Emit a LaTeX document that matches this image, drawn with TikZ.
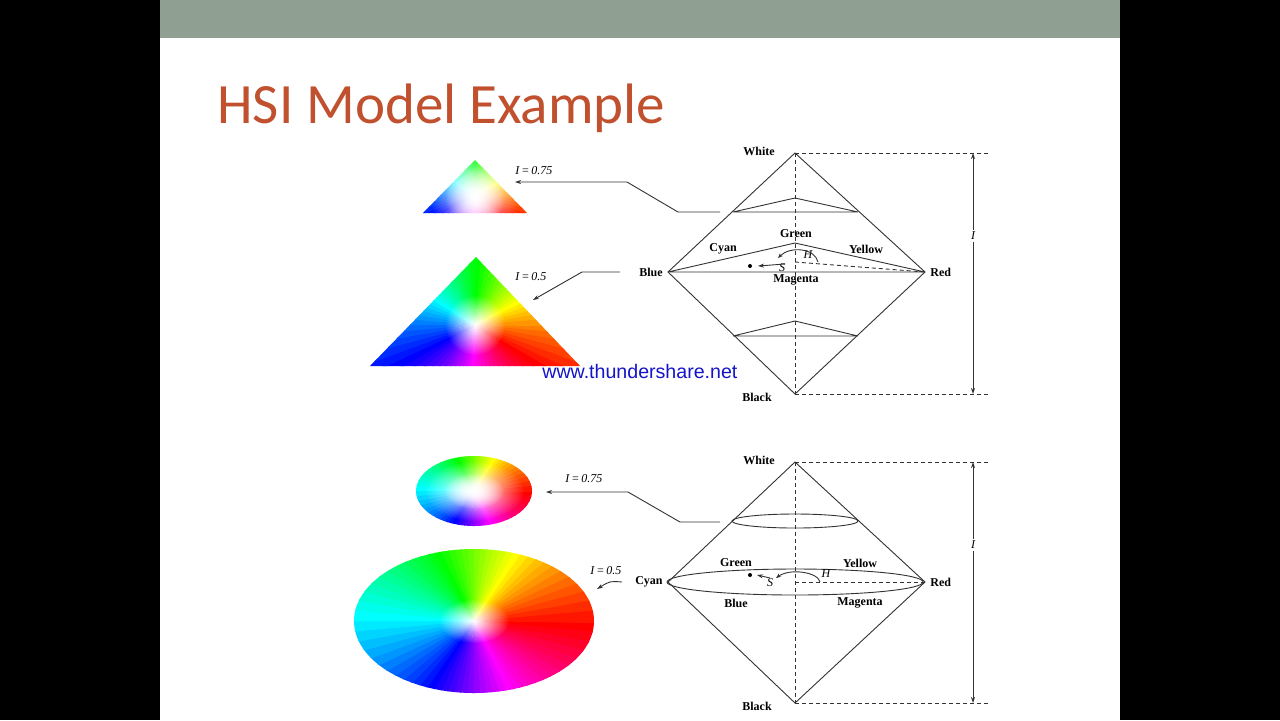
\documentclass[tikz,border=0pt]{standalone}
\usepackage{fontspec}
\setmainfont{Liberation Serif}
\newfontfamily\titlefont{Carlito}
\newfontfamily\webfont{Liberation Sans}
\usetikzlibrary{fadings,arrows.meta}
\tikzfading[name=whitefade, inner color=transparent!0, outer color=transparent!100]
\begin{document}
\begin{tikzpicture}[x=0.5pt,y=-0.5pt,
  lbl/.style={font=\fontsize{6}{7}\selectfont\bfseries, inner sep=1pt},
  ilbl/.style={font=\fontsize{6}{7}\selectfont\itshape, inner sep=1pt},
  ln/.style={draw=black!80, line width=0.45pt},
  dsh/.style={draw=black!80, line width=0.45pt, dash pattern=on 2pt off 1.5pt},
  arr/.style={ln, -{Stealth[length=3pt,width=2pt]}},
  darr/.style={ln, {Stealth[length=3pt,width=2pt]}-{Stealth[length=3pt,width=2pt]}}]
\useasboundingbox (0,0) rectangle (1280,720);
\fill[black] (0,0) rectangle (1280,720);
\fill[white] (160,0) rectangle (1120,720);
\fill[fill={rgb,255:red,143;green,160;blue,146}] (160,0) rectangle (1120,38);
\node[anchor=west, text={rgb,255:red,192;green,80;blue,46}, font=\titlefont\fontsize{28.5}{32}\selectfont, inner sep=0] (title) at (217,108) {HSI Model Example};

% ---------- colour wheels ----------
\newcommand\huewheel[5]{%
  \begin{scope}
    \clip #5;
    \foreach \a in {0,5,...,355}{%
      \pgfmathsetmacro\hh{mod(720-\a-#4,360)}%
      \definecolor{tmpc}{Hsb}{\hh,1,1}%
      \fill[tmpc] (#1,#2) -- +(\a:#3) -- +(\a+6:#3) -- cycle;
    }
  \end{scope}}
% small triangle
\huewheel{475}{195}{120}{-30}{(475,160) -- (423,213) -- (527,213) -- cycle}
\fill[white, path fading=whitefade] (475,196) circle (45);
\fill[white, path fading=whitefade] (475,196) circle (30);
% large triangle
\huewheel{475}{325}{220}{-30}{(476,257) -- (370,366) -- (580,366) -- cycle}
\fill[white, path fading=whitefade] (475,325) circle (30);
% small ellipse
\huewheel{474}{491}{120}{0}{(474,491) ellipse [x radius=58, y radius=35]}
\fill[white, path fading=whitefade] (474,491) ellipse [x radius=50, y radius=30];
\fill[white, path fading=whitefade] (474,491) ellipse [x radius=30, y radius=18];
% large ellipse
\huewheel{474}{621}{200}{0}{(474,621) ellipse [x radius=120, y radius=72]}
\fill[white, path fading=whitefade] (474,621) ellipse [x radius=35, y radius=22];

% ---------- top diagram ----------
\coordinate (W1) at (795,153);
\coordinate (K1) at (795,394);
\coordinate (B1) at (668,272);
\coordinate (R1) at (925,272);
\coordinate (G1) at (795,243);
\coordinate (C1) at (795,262);
\draw[ln] (W1) -- (B1) -- (K1) -- (R1) -- cycle;
\draw[ln] (B1) -- (R1) (B1) -- (G1) -- (R1);
\draw[ln] (733,212) -- (858,212) (733,212) -- (795,198) -- (858,212);
\draw[ln] (733,336) -- (858,336) (733,336) -- (795,321) -- (858,336);
\draw[dsh] (W1) -- (K1);
\draw[dsh] (C1) -- (R1);
\draw[dsh] (W1) -- (990,153) (K1) -- (990,394);
\coordinate (It1) at (973,153); \coordinate (Ib1) at (973,394);
\draw[darr] (It1) -- (Ib1);
\node[ilbl, fill=white] (I1) at (973,236) {I};
\node[lbl, anchor=south] (white1) at (759,158) {White};
\node[lbl] (black1) at (757,397) {Black};
\node[lbl, anchor=east] (blue1) at (665,272) {Blue};
\node[lbl, anchor=west] (red1) at (928,272) {Red};
\node[lbl] (green1) at (796,234) {Green};
\node[lbl] (cyan1) at (723,249) {Cyan};
\node[lbl] (yellow1) at (866,249) {Yellow};
\node[lbl] (mag1) at (796,280) {Magenta};
\node[ilbl] (H1) at (808,255) {H};
\node[ilbl] (S1) at (782,268) {S};
\fill (750,266) circle (2);
\coordinate (sa1) at (785,264); \coordinate (sb1) at (758,266);
\draw[arr] (sa1) -- (sb1);
\draw[ln,->,>={Stealth[length=2.5pt,width=2pt]}] (818,262) .. controls (815,248) and (790,246) .. (778,258);
\coordinate (l1a) at (720,212);
\coordinate (l1b) at (515,182);
\draw[arr] (l1a) -- (678,212) -- (627,182) -- (l1b);
\node[ilbl, anchor=west] (i075a) at (513,171) {I\,=\,0.75};
\coordinate (l2a) at (620,272);
\coordinate (l2b) at (533,300);
\draw[arr] (l2a) -- (582,272) -- (l2b);
\node[ilbl, anchor=west] (i05a) at (513,277) {I\,=\,0.5};

\node[anchor=west, text={rgb,255:red,20;green,20;blue,200}, font=\webfont\fontsize{9.8}{11}\selectfont, inner sep=0] (web) at (542,371) {www.thundershare.net};

% ---------- bottom diagram ----------
\coordinate (W2) at (795,462);
\coordinate (K2) at (795,703);
\coordinate (C2) at (668,582);
\coordinate (R2) at (925,582);
\coordinate (O2) at (795,582);
\draw[ln] (W2) -- (C2) -- (K2) -- (R2) -- cycle;
\draw[ln] (O2) ellipse [x radius=128, y radius=13];
\draw[ln] (795,521) ellipse [x radius=63, y radius=7];
\draw[dsh] (W2) -- (K2);
\draw[dsh] (O2) -- (R2);
\draw[dsh] (W2) -- (990,462) (K2) -- (990,703);
\coordinate (It2) at (973,462); \coordinate (Ib2) at (973,703);
\draw[darr] (It2) -- (Ib2);
\node[ilbl, fill=white] (I2) at (973,545) {I};
\node[lbl, anchor=south] (white2) at (759,467) {White};
\node[lbl] (black2) at (757,706) {Black};
\node[lbl, anchor=east] (cyan2) at (665,582) {Cyan};
\node[lbl, anchor=west] (red2) at (928,582) {Red};
\node[lbl] (green2) at (736,563) {Green};
\node[lbl] (yellow2) at (860,563) {Yellow};
\node[lbl] (blue2) at (736,603) {Blue};
\node[lbl] (mag2) at (860,603) {Magenta};
\node[ilbl] (H2) at (826,574) {H};
\node[ilbl] (S2) at (770,583) {S};
\fill (750,575) circle (2);
\coordinate (sa2) at (770,578); \coordinate (sb2) at (757,575);
\draw[arr] (sa2) -- (sb2);
\draw[ln,->,>={Stealth[length=2.5pt,width=2pt]}] (820,582) .. controls (818,572) and (790,568) .. (776,578);
\coordinate (l3a) at (720,522);
\coordinate (l3b) at (546,492);
\draw[arr] (l3a) -- (680,522) -- (628,492) -- (l3b);
\node[ilbl, anchor=west] (i075b) at (563,479) {I\,=\,0.75};
\node[ilbl, anchor=west] (i05b) at (588,571) {I\,=\,0.5};
\coordinate (l4a) at (622,582);
\coordinate (l4b) at (597,589);
\draw[arr] (l4a) .. controls (610,581) .. (l4b);
\end{tikzpicture}
\end{document}
